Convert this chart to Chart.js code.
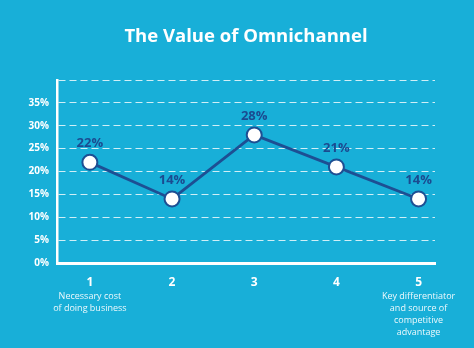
<!DOCTYPE html>
<html>
<head>
<meta charset="utf-8">
<script src="https://cdn.jsdelivr.net/npm/chart.js@4"></script>
<style>
  body { margin: 0; background: #18afd8; }
  #line-chart { display: block; }
</style>
</head>
<body>
<canvas id="line-chart" width="474" height="348"></canvas>
<script>
var stages = [1, 2, 3, 4, 5];
var values = [22, 14, 28, 21, 14];
var valueLabels = ['22%', '14%', '28%', '21%', '14%'];
var stageNotes = {
  1: ['Necessary cost', 'of doing business'],
  5: ['Key differentiator', 'and source of', 'competitive', 'advantage']
};
var yTicks = [0, 5, 10, 15, 20, 25, 30, 35];
var chartTitle = 'The Value of Omnichannel';

var points = stages.map(function (s, i) { return { x: s, y: values[i] }; });

// title centred over the plot, labels above the points
var extras = {
  id: 'extras',
  afterDraw: function (chart) {
    var ctx = chart.ctx;
    var area = chart.chartArea;
    ctx.save();
    ctx.font = 'bold 18.5px "Open Sans"';
    ctx.fillStyle = '#ffffff';
    ctx.textAlign = 'center';
    ctx.textBaseline = 'middle';
    ctx.fillText(chartTitle, (area.left + area.right) / 2, 37);
    ctx.restore();
  },
  afterDatasetsDraw: function (chart) {
    var ctx = chart.ctx;
    var meta = chart.getDatasetMeta(0);
    ctx.save();
    ctx.font = 'bold 13px "Open Sans"';
    ctx.fillStyle = '#1b4b90';
    ctx.textAlign = 'center';
    ctx.textBaseline = 'middle';
    meta.data.forEach(function (p, i) {
      ctx.fillText(valueLabels[i], p.x, p.y - 19);
    });
    ctx.restore();
  }
};

new Chart(document.getElementById('line-chart'), {
  type: 'line',
  data: {
    datasets: [{
      data: points,
      borderColor: '#1d4f93',
      borderWidth: 2.8,
      pointRadius: 7.5,
      pointBorderWidth: 2,
      pointBackgroundColor: '#ffffff',
      pointBorderColor: '#1d4f93',
      tension: 0,
      fill: false
    }]
  },
  plugins: [extras],
  options: {
    responsive: false,
    animation: false,
    layout: { padding: { left: 0, right: 39, top: 80, bottom: 0 } },
    plugins: {
      legend: { display: false },
      tooltip: { enabled: false },
      title: { display: false }
    },
    scales: {
      y: {
        min: 0,
        max: 40,
        afterFit: function (scale) { scale.width = 57; },
        afterBuildTicks: function (scale) {
          scale.ticks = yTicks.concat([40]).map(function (v) { return { value: v }; });
        },
        ticks: {
          color: '#ffffff',
          padding: 8,
          font: { family: 'Open Sans', size: 10, weight: 'bold' },
          callback: function (v) { return yTicks.indexOf(v) >= 0 ? v + '%' : ''; }
        },
        grid: { color: 'rgba(255,255,255,0.8)', lineWidth: 1, drawTicks: false },
        border: { display: true, color: '#ffffff', width: 2.5, dash: [7, 4] }
      },
      x: {
        type: 'linear',
        min: 0.6,
        max: 5.2,
        afterFit: function (scale) { scale.height = 26; },
        afterBuildTicks: function (scale) {
          scale.ticks = stages.map(function (v) { return { value: v }; });
        },
        ticks: {
          color: '#ffffff',
          padding: 12,
          font: { family: 'Open Sans', size: 12, weight: 'bold' },
          callback: function (v) { return String(v); }
        },
        grid: { display: false, drawTicks: false },
        border: { display: true, color: '#ffffff', width: 3 }
      },
      notes: {
        type: 'linear',
        position: 'bottom',
        min: 0.6,
        max: 5.2,
        afterFit: function (scale) { scale.height = 59; },
        afterBuildTicks: function (scale) {
          scale.ticks = stages.map(function (v) { return { value: v }; });
        },
        ticks: {
          color: 'rgba(255,255,255,0.92)',
          padding: 1,
          maxRotation: 0,
          autoSkip: false,
          font: { family: 'Open Sans', size: 9, lineHeight: 1.35 },
          callback: function (v) { return stageNotes[v] || ''; }
        },
        grid: { display: false, drawTicks: false },
        border: { display: false }
      }
    }
  }
});
</script>
</body>
</html>
